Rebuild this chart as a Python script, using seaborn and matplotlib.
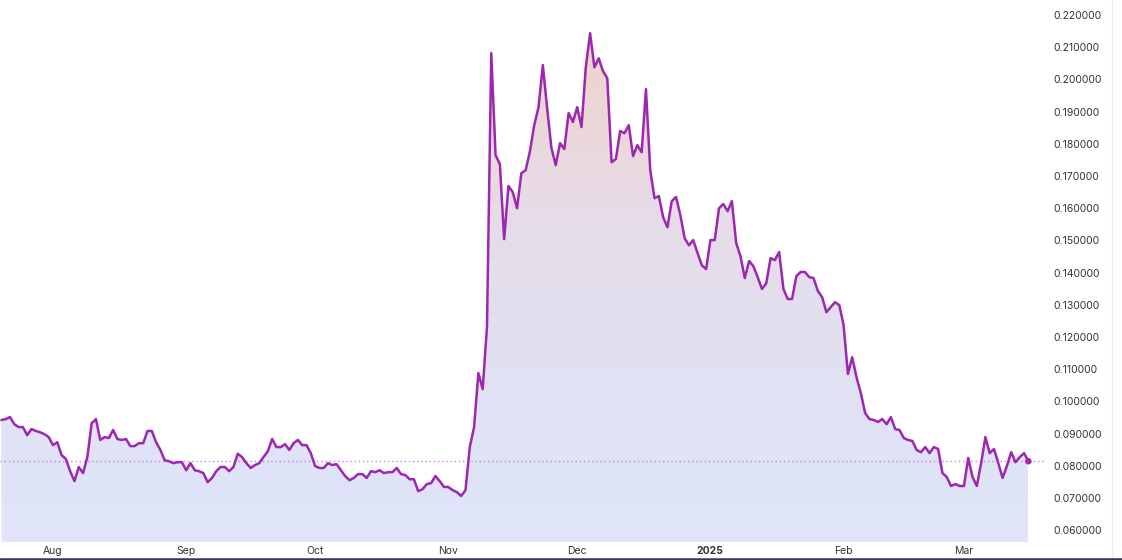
import numpy as np
import pandas as pd
import matplotlib
matplotlib.use("Agg")
import matplotlib.pyplot as plt
import matplotlib.dates as mdates
from matplotlib.colors import LinearSegmentedColormap
from matplotlib.lines import Line2D
import seaborn as sns

# ---------------- data ----------------
start_date = "2024-07-20"
prices = [
    0.0942, 0.0945, 0.0951, 0.0929, 0.0920, 0.0920, 0.0895, 0.0914, 0.0908, 0.0904,
    0.0898, 0.0889, 0.0864, 0.0873, 0.0833, 0.0821, 0.0783, 0.0752, 0.0796, 0.0777,
    0.0827, 0.0932, 0.0945, 0.0880, 0.0889, 0.0886, 0.0911, 0.0883, 0.0880, 0.0883,
    0.0861, 0.0861, 0.0870, 0.0870, 0.0908, 0.0908, 0.0873, 0.0849, 0.0817, 0.0814,
    0.0808, 0.0811, 0.0811, 0.0786, 0.0808, 0.0786, 0.0783, 0.0777, 0.0749, 0.0762,
    0.0783, 0.0796, 0.0796, 0.0783,
    0.0796, 0.0837, 0.0827, 0.0808, 0.0793, 0.0802, 0.0808, 0.0827, 0.0845, 0.0883,
    0.0858, 0.0858, 0.0867, 0.0849, 0.0870, 0.0880, 0.0864, 0.0864, 0.0839, 0.0799,
    0.0793, 0.0793, 0.0808, 0.0802, 0.0805, 0.0786, 0.0768, 0.0755, 0.0762, 0.0774,
    0.0774, 0.0762, 0.0783, 0.0780, 0.0786, 0.0777, 0.0780, 0.0780, 0.0793, 0.0774,
    0.0771, 0.0758, 0.0758, 0.0721, 0.0727, 0.0743, 0.0746, 0.0768, 0.0752, 0.0734,
    0.0734, 0.0724, 0.0718, 0.0706, 0.0724,
    0.0858, 0.0920, 0.1088, 0.1038, 0.1231, 0.2082, 0.1765, 0.1737, 0.1504, 0.1669,
    0.1650, 0.1600, 0.1709, 0.1718, 0.1777, 0.1858, 0.1914, 0.2045, 0.1911, 0.1787,
    0.1734, 0.1802, 0.1784, 0.1896, 0.1868, 0.1914, 0.1852, 0.2038, 0.2144, 0.2038,
    0.2066, 0.2026, 0.2004, 0.1743, 0.1753, 0.1840, 0.1833, 0.1858, 0.1762, 0.1796,
    0.1774, 0.1970, 0.1718, 0.1631, 0.1638, 0.1572, 0.1541, 0.1622, 0.1635, 0.1579,
    0.1507, 0.1485, 0.1501, 0.1461, 0.1423, 0.1411, 0.1501, 0.1501, 0.1600, 0.1613,
    0.1591, 0.1622, 0.1492, 0.1451, 0.1383, 0.1436, 0.1420, 0.1386, 0.1349, 0.1367,
    0.1445, 0.1439, 0.1464, 0.1349, 0.1318, 0.1318, 0.1389, 0.1402, 0.1402, 0.1386,
    0.1383, 0.1343, 0.1324, 0.1277, 0.1293, 0.1308, 0.1299, 0.1237, 0.1085, 0.1137,
    0.1075, 0.1026, 0.0964, 0.0945, 0.0942, 0.0936, 0.0945, 0.0929, 0.0951, 0.0914,
    0.0911, 0.0886, 0.0880, 0.0877, 0.0849, 0.0842, 0.0858, 0.0839, 0.0858, 0.0852,
    0.0777, 0.0765, 0.0737, 0.0743, 0.0737, 0.0737, 0.0824, 0.0765, 0.0737, 0.0808,
    0.0889, 0.0839, 0.0852, 0.0808, 0.0762, 0.0799, 0.0842, 0.0811, 0.0827, 0.0839,
    0.0814,
]
month_ticks = ["2024-08-01", "2024-09-01", "2024-10-01", "2024-11-01",
               "2024-12-01", "2025-01-01", "2025-02-01", "2025-03-01"]
month_labels = ["Aug", "Sep", "Oct", "Nov", "Dec", "2025", "Feb", "Mar"]
y_ticks = [0.06, 0.07, 0.08, 0.09, 0.10, 0.11, 0.12, 0.13, 0.14, 0.15,
           0.16, 0.17, 0.18, 0.19, 0.20, 0.21, 0.22]

dates = pd.date_range(start_date, periods=len(prices), freq="D")
df = pd.DataFrame({"date": dates, "price": prices})

# ---------------- style ----------------
sns.set_theme(style="white")
plt.rcParams["font.family"] = ["Inter", "DejaVu Sans"]

W, H = 1122, 560
fig = plt.figure(figsize=(W / 100, H / 100), dpi=100)
ax = fig.add_axes([0, 18 / H, 1046 / W, 542 / H])

line_color = "#9C27B0"
ymin, ymax = 0.0563, 0.2247
x0 = mdates.date2num(dates[0])
x_left = x0 - 0.33
x_right = x0 + 243.1

# gradient area fill
poly = ax.fill_between(df["date"], df["price"], ymin, color="none", lw=0)
cmap = LinearSegmentedColormap.from_list(
    "area", ["#DFE5FA", "#E1E1F3", "#E7DBE7", "#F0D2C8"])
grad = np.linspace(0, 1, 256).reshape(-1, 1)
im = ax.imshow(grad, extent=[x0, mdates.date2num(dates[-1]), ymin, max(prices)],
               origin="lower", aspect="auto", cmap=cmap, zorder=1)
im.set_clip_path(poly.get_paths()[0], transform=ax.transData)

# price line
sns.lineplot(data=df, x="date", y="price", ax=ax, color=line_color,
             linewidth=1.8, zorder=4)

# last value guide and marker
ax.axhline(prices[-1], color="#D27CE2", ls=(0, (1, 2)), lw=1.0, zorder=3)
ax.scatter([dates[-1]], [prices[-1]], s=22, color=line_color, zorder=5,
           edgecolor="none")

ax.set_xlim(x_left, x_right)
ax.set_ylim(ymin, ymax)

ax.set_xticks(pd.to_datetime(month_ticks))
ax.set_xticklabels(month_labels)
for lbl in ax.get_xticklabels():
    if lbl.get_text() == "2025":
        lbl.set_fontweight("bold")

ax.yaxis.tick_right()
ax.set_yticks(y_ticks)
ax.set_yticklabels([f"{v:.6f}" for v in y_ticks])

ax.tick_params(axis="x", length=0, pad=3, labelsize=7.5, colors="#333333")
ax.tick_params(axis="y", length=0, pad=5, labelsize=7.5, colors="#333333")
ax.set_xlabel("")
ax.set_ylabel("")
for s in ax.spines.values():
    s.set_visible(False)
ax.grid(False)

# frame lines of the screenshot
fig.add_artist(Line2D([1112 / W, 1112 / W], [0, 1], transform=fig.transFigure,
                      color="#EDEDED", lw=1))
fig.add_artist(Line2D([0, 1], [1.2 / H, 1.2 / H], transform=fig.transFigure,
                      color="#2E3A57", lw=1.8))

fig.savefig("out.png", dpi=100)
